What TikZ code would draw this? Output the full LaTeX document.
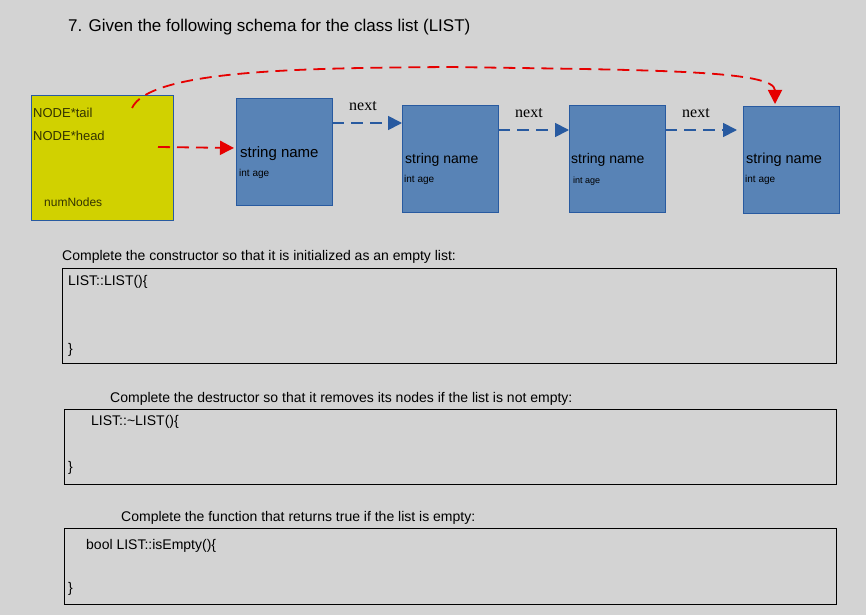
\documentclass[tikz,border=0pt]{standalone}
\usepackage{fontspec}
\setmainfont{Liberation Sans}
\newfontfamily\serifnext{Liberation Serif}
\usetikzlibrary{arrows.meta}
\definecolor{bg}{RGB}{211,211,211}
\definecolor{yel}{RGB}{209,209,0}
\definecolor{blu}{RGB}{88,131,182}
\definecolor{bld}{RGB}{40,90,160}
\definecolor{redd}{RGB}{230,0,0}
\begin{document}
\begin{tikzpicture}[x=1pt,y=-1pt,
  nodebox/.style={draw=bld,fill=blu,line width=0.8pt},
  codebox/.style={draw=black,line width=0.6pt},
  redarrow/.style={draw=redd,line width=1.8pt,dash pattern=on 12pt off 7pt,-{Triangle[length=14pt,width=14pt]}},
  bluearrow/.style={draw=bld,line width=1.8pt,dash pattern=on 12pt off 7pt,-{Triangle[length=14pt,width=14pt]}},
  lbl/.style={font=\serifnext\fontsize{16}{18}\selectfont,text=black},
  txt/.style={anchor=west,inner sep=0pt,text=black,font=\fontsize{14}{16}\selectfont}]
\fill[bg] (0,0) rectangle (866,615);
\useasboundingbox (0,0) rectangle (866,615);
\node[txt,font=\fontsize{17}{20}\selectfont] (title) at (68,27) {7. Given the following schema for the class list (LIST)};
% list structure
\draw[draw=bld,fill=yel,line width=0.8pt] (31,95) rectangle (173,220);
\node[txt,text=black!75!yel,font=\fontsize{13}{15}\selectfont] (tail) at (33,113) {NODE*tail};
\node[txt,text=black!75!yel,font=\fontsize{13}{15}\selectfont] (head) at (33,136) {NODE*head};
\node[txt,text=black!75!yel,font=\fontsize{12}{14}\selectfont] (num) at (44,202) {numNodes};
\coordinate (tailend) at (132,108);
\coordinate (headend) at (158,147);
\foreach \n/\a/\b/\c/\d in {n1/236/98/332/205,n2/402/105/498/212,n3/569/105/665/212,n4/743/106/839/213}{
  \draw[nodebox] (\a,\b) rectangle (\c,\d);
  \coordinate (\n) at (\a,\b);
}
\node[txt,font=\fontsize{15}{17}\selectfont] (s1) at (240,154) {string name};
\node[txt,font=\fontsize{10}{12}\selectfont] (a1) at (239,174) {int age};
\node[txt] (s2) at (405,160) {string name};
\node[txt,font=\fontsize{10}{12}\selectfont] (a2) at (404,180) {int age};
\node[txt] (s3) at (571,160) {string name};
\node[txt,font=\fontsize{9}{11}\selectfont] (a3) at (573,181) {int age};
\node[txt,font=\fontsize{14.5}{16}\selectfont] (s4) at (746,160) {string name};
\node[txt,font=\fontsize{10}{12}\selectfont] (a4) at (745,180) {int age};
\coordinate (h1) at (234,148);
\draw[redarrow] (headend) -- (h1);
\coordinate (t4) at (775,104);
\draw[redarrow] (tailend) .. controls (150,70) and (300,68) .. (450,67) .. controls (650,70) and (775,70) .. (t4);
\coordinate (o1) at (332,123); \coordinate (i2) at (402,123);
\coordinate (o2) at (498,130); \coordinate (i3) at (569,130);
\coordinate (o3) at (665,130); \coordinate (i4) at (737,130);
\draw[bluearrow] (o1) -- (i2);
\draw[bluearrow] (o2) -- (i3);
\draw[bluearrow] (o3) -- (i4);
\node[lbl] (nx1) at (363,106) {next};
\node[lbl] (nx2) at (529,113) {next};
\node[lbl] (nx3) at (696,113) {next};
% code boxes
\node[txt,font=\fontsize{14}{16}\selectfont] (q1) at (62,257) {Complete the constructor so that it is initialized as an empty list:};
\draw[codebox] (62,268) rectangle (836,363);
\node[txt] (c1) at (68,282) {LIST::LIST()\{};
\node[txt] (e1) at (68,350) {\}};
\node[txt] (q2) at (110,399) {Complete the destructor so that it removes its nodes if the list is not empty:};
\draw[codebox] (64,409) rectangle (836,484);
\node[txt] (c2) at (91,422) {LIST::\textasciitilde LIST()\{};
\node[txt] (e2) at (68,468) {\}};
\node[txt] (q3) at (121,518) {Complete the function that returns true if the list is empty:};
\draw[codebox] (64,528) rectangle (836,604);
\node[txt] (c3) at (86,546) {bool LIST::isEmpty()\{};
\node[txt] (e3) at (68,589) {\}};
\end{tikzpicture}
\end{document}
